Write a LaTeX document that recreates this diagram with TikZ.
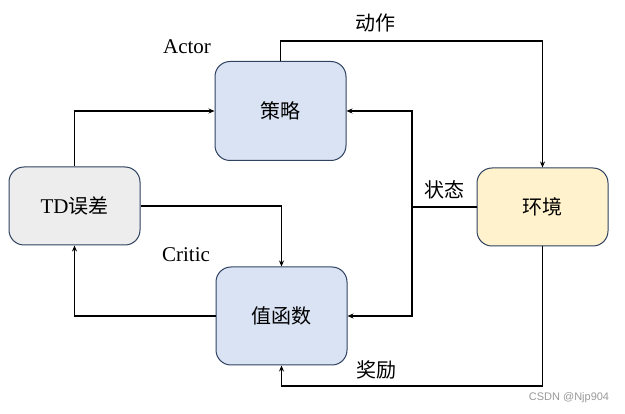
\documentclass[tikz,border=0pt]{standalone}
\usepackage{fontspec}
\setmainfont{Liberation Serif}
\newfontfamily\cjk{Noto Sans CJK SC}
\newfontfamily\wmfont{Liberation Sans}
\usetikzlibrary{calc}
\usetikzlibrary{arrows.meta}

\definecolor{boxline}{HTML}{2F4260}
\definecolor{bluefill}{HTML}{DAE3F3}
\definecolor{grayfill}{HTML}{EDEDED}
\definecolor{yellowfill}{HTML}{FFF2CC}

\tikzset{
    block/.style={draw=boxline, line width=1pt, rounded corners=15pt,
        minimum width=131pt, font=\cjk\fontsize{20}{22}\selectfont},
    link/.style={line width=1.4pt},
    arr/.style={link, -{Stealth[length=6pt,width=5pt]}},
    lab/.style={font=\fontsize{20}{22}\selectfont},
}

\begin{document}
\begin{tikzpicture}[x=1pt, y=-1pt]
    \useasboundingbox (0, 0) rectangle (625, 414);
    
    \node[block, fill=bluefill, minimum height=99pt] (policy) at (280.5, 111) {策略};
    \node[block, fill=grayfill, minimum height=78pt] (td) at (74.5, 206) {\rmfamily\fontsize{21}{22}\selectfont TD\cjk\fontsize{20}{22}\selectfont 误差};
    \node[block, fill=bluefill, minimum height=98pt] (value) at (281.5, 316) {值函数};
    \node[block, fill=yellowfill, minimum height=78pt] (env) at (542.5, 207) {环境};
    
    \coordinate (acttop) at (400, 41);
    \coordinate (split) at (412, 207);
    \coordinate (rwd) at (400, 386);
    
    \draw[arr] (policy.north) |- (acttop) -| (env.north);
    \draw[arr] (td.north) |- (policy.west);
    \draw[arr] (td.east) -| (value.north);
    \draw[link] (env.west) -- (split);
    \draw[arr] (split) |- (policy.east);
    \draw[arr] (split) |- (value.east);
    \draw[arr] (env.south) |- (rwd) -| (value.south);
    \draw[arr] (value.west) -| (td.south);
    
    \node[lab] (actlab) at (375, 23) {\cjk 动作};
    \node[lab, font=\fontsize{21}{22}\selectfont] (actor) at (187, 47) {Actor};
    \node[lab, font=\fontsize{21}{22}\selectfont] (critic) at (186, 255) {Critic};
    \node[lab] (statelab) at (444, 190) {\cjk 状态};
    \node[lab] (rwdlab) at (376, 370) {\cjk 奖励};
    \node[font=\wmfont\fontsize{11}{12}\selectfont, text=gray!80] (mark) at (569, 398) {CSDN @Njp904};
    
\end{tikzpicture}
\end{document}
